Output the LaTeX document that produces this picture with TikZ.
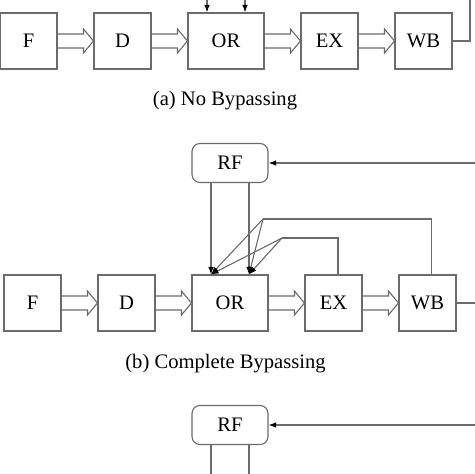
\documentclass[tikz,border=0pt]{standalone}
\usepackage{fontspec}
\setmainfont{Liberation Serif}
\usetikzlibrary{calc,arrows.meta}
\definecolor{linegray}{gray}{0.42}
\tikzset{
  stage/.style={draw=linegray, line width=0.55pt, minimum height=28pt, inner sep=0pt, font=\fontsize{10.3}{12}\selectfont},
  regfile/.style={stage, rounded corners=4pt, minimum width=38pt, minimum height=19.5pt},
  wire/.style={draw=linegray, line width=0.55pt},
  tip/.style={wire, -{Latex[length=3.8pt,width=2.8pt,color=black]}},
  caption/.style={font=\fontsize{10.3}{12}\selectfont}
}
\begin{document}
\begin{tikzpicture}[x=0.5pt,y=-0.5pt]
\useasboundingbox (0,0) rectangle (474,474);
\foreach \n/\x/\w in {F/32.5/57,D/126.5/57,OR/230/76,EX/333.5/57,WB/427.5/57} {
  \node[stage, minimum width=\w*0.5pt] (\n1) at (\x-4,41) {\n};
  \node[stage, minimum width=\w*0.5pt] (\n2) at (\x,303) {\n};
}
\foreach \r in {1,2}
  \foreach \a/\b in {F/D,D/OR,OR/EX,EX/WB}
    \draw[wire] ($(\a\r.east)+(0,-7)$) -- ($(\b\r.west)+(-10,-7)$) -- ($(\b\r.west)+(-10,-12)$)
      -- (\b\r.west) -- ($(\b\r.west)+(-10,12)$) -- ($(\b\r.west)+(-10,7)$) -- ($(\a\r.east)+(0,7)$);
\node[caption] (capA) at (225,101) {(a) No Bypassing};
\node[caption] (capB) at (225.5,364) {(b) Complete Bypassing};
\node[regfile] (RF2) at (230,163) {RF};
\node[regfile] (RF3) at (230,425) {RF};
\coordinate (upA) at (470,-10);
\coordinate (back2) at (477,163);
\coordinate (back3) at (477,425);
\coordinate (fwdWB) at (263,219);
\coordinate (fwdEX) at (282,238);
\draw[wire] (WB1.east) -| (upA);
\foreach \dx in {-19,19} {
  \draw[tip] ($(OR1.north)+(\dx,-20)$) -- ($(OR1.north)+(\dx,0)$);
  \coordinate (port) at ($(OR2.north)+(\dx,0)$);
  \draw[tip] (RF2.south -| port) -- (port);
  \draw[tip] (fwdWB) -- (port);
  \draw[tip] (fwdEX) -- (port);
  \draw[wire] (RF3.south -| port) -- ++(0,40);
}
\draw[wire] ($(WB2.north)+(4,0)$) |- (fwdWB);
\draw[wire] ($(EX2.north)+(4.5,0)$) |- (fwdEX);
\draw[tip] (WB2.east) -| (back2) -- (RF2.east);
\draw[tip] (back3) -- (RF3.east);
\end{tikzpicture}
\end{document}
